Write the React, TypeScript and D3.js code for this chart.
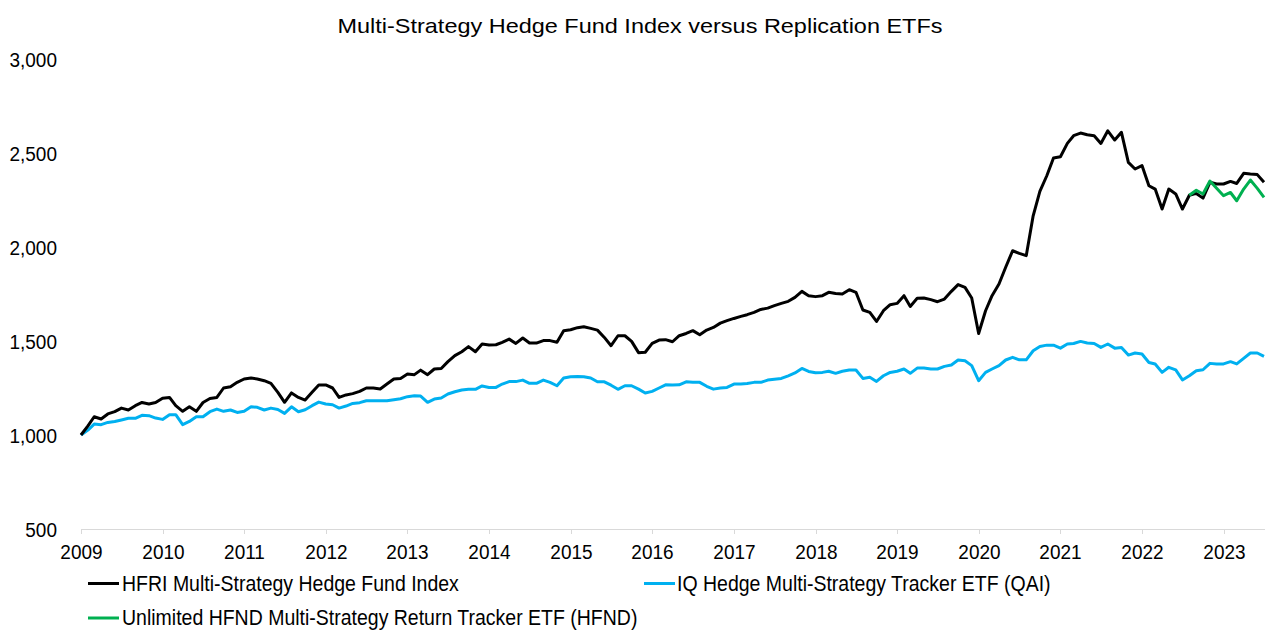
import React from 'react';
import * as d3 from 'd3';

// monthly index levels, Jan 2009 = 1000
const hfri = [
  1000, 1049, 1097, 1085, 1112, 1124, 1143, 1133, 1156, 1173, 1165, 1173,
  1196, 1200, 1156, 1126, 1150, 1126, 1173, 1194, 1200, 1250, 1257, 1280,
  1298, 1303, 1298, 1289, 1275, 1227, 1174, 1224, 1200, 1186, 1227, 1266,
  1266, 1250, 1200, 1213, 1220, 1232, 1250, 1250, 1245, 1271, 1298, 1301,
  1324, 1321, 1345, 1321, 1351, 1354, 1390, 1422, 1443, 1470, 1443, 1484,
  1479, 1480, 1493, 1510, 1487, 1516, 1489, 1489, 1502, 1502, 1493, 1555,
  1560, 1571, 1576, 1567, 1558, 1519, 1475, 1528, 1528, 1498, 1438, 1440,
  1487, 1505, 1507, 1496, 1528, 1540, 1555, 1533, 1558, 1572, 1595, 1608,
  1620, 1631, 1640, 1652, 1668, 1675, 1688, 1700, 1711, 1732, 1764, 1741,
  1736, 1741, 1759, 1753, 1750, 1773, 1759, 1665, 1652, 1604, 1661, 1693,
  1700, 1741, 1684, 1727, 1729, 1720, 1709, 1723, 1764, 1800, 1785, 1729,
  1540, 1661, 1741, 1803, 1892, 1980, 1966, 1954, 2166, 2296, 2379, 2473,
  2480, 2551, 2592, 2606, 2597, 2592, 2551, 2618, 2569, 2610, 2450, 2415,
  2433, 2326, 2308, 2202, 2308, 2282, 2202, 2275, 2285, 2260, 2344, 2335,
  2335, 2349, 2338, 2392, 2388, 2385, 2344,
];

const qai = [
  1000, 1026, 1058, 1055, 1067, 1072, 1080, 1089, 1089, 1105, 1103, 1090,
  1083, 1108, 1108, 1055, 1072, 1097, 1097, 1124, 1138, 1126, 1133, 1120,
  1126, 1150, 1147, 1133, 1143, 1136, 1115, 1150, 1124, 1134, 1156, 1175,
  1165, 1161, 1143, 1154, 1168, 1172, 1182, 1182, 1182, 1182, 1188, 1193,
  1204, 1209, 1207, 1174, 1191, 1197, 1218, 1230, 1239, 1243, 1243, 1261,
  1253, 1253, 1271, 1284, 1284, 1292, 1275, 1275, 1292, 1280, 1262, 1303,
  1310, 1311, 1310, 1303, 1283, 1283, 1265, 1243, 1262, 1262, 1244, 1223,
  1232, 1250, 1267, 1266, 1267, 1283, 1280, 1280, 1259, 1244, 1250, 1253,
  1271, 1271, 1274, 1280, 1280, 1292, 1297, 1301, 1315, 1330, 1354, 1338,
  1331, 1333, 1339, 1328, 1339, 1346, 1346, 1301, 1307, 1285, 1315, 1333,
  1339, 1351, 1328, 1356, 1356, 1351, 1351, 1365, 1372, 1399, 1395, 1369,
  1289, 1333, 1351, 1369, 1399, 1413, 1400, 1400, 1448, 1471, 1478, 1478,
  1462, 1484, 1487, 1498, 1489, 1487, 1466, 1484, 1462, 1466, 1425, 1436,
  1431, 1386, 1378, 1333, 1360, 1346, 1293, 1315, 1342, 1347, 1381, 1378,
  1378, 1390, 1378, 1408, 1436, 1436, 1418,
];

// HFND starts in the 164th month, rebased to the HFRI level
const hfndStart = 163;
const hfnd = [2275, 2302, 2282, 2351, 2312, 2273, 2290, 2246, 2308, 2356, 2312, 2264];

const yTicks = [500, 1000, 1500, 2000, 2500, 3000];
const yearTicks = d3.range(2009, 2024);

const seriesNames = [
  'HFRI Multi-Strategy Hedge Fund Index',
  'IQ Hedge Multi-Strategy Tracker ETF (QAI)',
  'Unlimited HFND Multi-Strategy Return Tracker ETF (HFND)',
];

const colors = ['#000000', '#00b0f0', '#00b050'];
const font = '"Liberation Sans", Arial, sans-serif';

const monthDate = (i: number) => new Date(2009, i, 1);

// text slightly taller than wide, like the source rendering
const Label = ({ x, y, anchor = 'start', size, children }: any) => (
  <text transform={`translate(${x},${y}) scale(1,1.1)`} textAnchor={anchor} fontSize={size}>
    {children}
  </text>
);

export default function App() {
  const width = 1280;
  const height = 640;

  const x = d3
    .scaleTime()
    .domain([monthDate(0), monthDate(hfri.length - 1)])
    .range([81, 1264]);

  const y = d3.scaleLinear().domain([500, 3000]).range([529, 59]);

  const line = d3
    .line<[number, number]>()
    .x(d => x(monthDate(d[0])))
    .y(d => y(d[1]));

  const hfriPts = hfri.map((v, i) => [i, v] as [number, number]);
  const qaiPts = qai.map((v, i) => [i, v] as [number, number]);
  const hfndPts = hfnd.map((v, i) => [hfndStart + i, v] as [number, number]);

  return (
    <svg
      width={width}
      height={height}
      style={{ position: 'absolute', left: 0, top: 0, background: '#fff' }}
      fontFamily={font}
    >
      <text x={640} y={33} textAnchor="middle" fontSize={21} textLength={605} lengthAdjust="spacingAndGlyphs">
        Multi-Strategy Hedge Fund Index versus Replication ETFs
      </text>

      {/* y axis labels */}
      {yTicks.map(t => (
        <Label key={t} x={57} y={y(t) + 7.5} anchor="end" size={19}>
          {d3.format(',')(t)}
        </Label>
      ))}

      {/* x axis */}
      <line x1={81} x2={1265} y1={529.5} y2={529.5} stroke="#d9d9d9" strokeWidth={1} />
      {yearTicks.map(yr => {
        const xx = Math.round(x(new Date(yr, 0, 1))) + 0.5;
        return (
          <g key={yr}>
            <line x1={xx} x2={xx} y1={529} y2={534} stroke="#d9d9d9" />
            <Label x={xx} y={559} anchor="middle" size={19}>
              {yr}
            </Label>
          </g>
        );
      })}

      {/* series */}
      <g fill="none" strokeWidth={3} strokeLinejoin="round" strokeLinecap="butt">
        <path d={line(qaiPts) || ''} stroke={colors[1]} />
        <path d={line(hfriPts) || ''} stroke={colors[0]} />
        <path d={line(hfndPts) || ''} stroke={colors[2]} />
      </g>

      {/* legend */}
      <g>
        <line x1={88} x2={119} y1={583.5} y2={583.5} stroke={colors[0]} strokeWidth={3} />
        <Label x={122} y={591} size={19.5}>{seriesNames[0]}</Label>
        <line x1={644} x2={675} y1={583.5} y2={583.5} stroke={colors[1]} strokeWidth={3} />
        <Label x={677} y={591} size={19.5}>{seriesNames[1]}</Label>
        <line x1={88} x2={119} y1={618} y2={618} stroke={colors[2]} strokeWidth={3} />
        <Label x={122} y={625} size={19.5}>{seriesNames[2]}</Label>
      </g>
    </svg>
  );
}
